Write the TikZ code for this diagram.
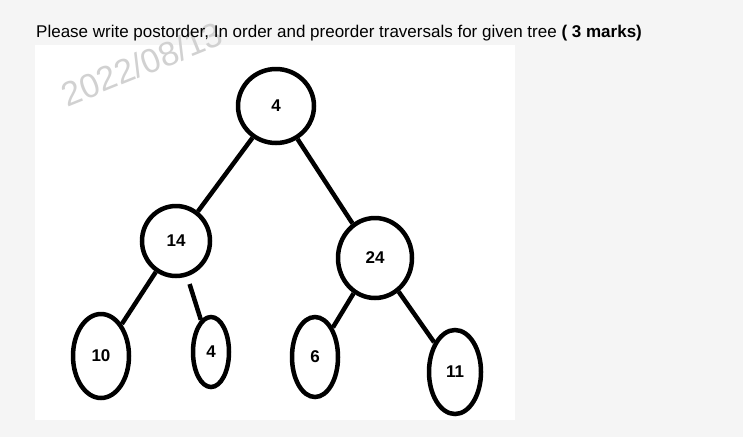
\documentclass[tikz,border=0pt]{standalone}
\usepackage{fontspec}
\setmainfont{Liberation Sans}
\usetikzlibrary{shapes.geometric}
\begin{document}
\begin{tikzpicture}[x=1pt,y=-1pt,
  tn/.style={draw=black,line width=4.5pt,ellipse,inner sep=0pt,font=\bfseries\fontsize{17}{17}\selectfont},
  ed/.style={line width=4.5pt,black}]
\useasboundingbox (0,0) rectangle (743,437);
\fill[black!4] (0,0) rectangle (743,437);
\fill[white] (35,45) rectangle (515,420);
\node[rotate=22,text=black!18,font=\fontsize{34}{34}\selectfont] (wm) at (142,64) {2022/08/13};
\node[anchor=base west,inner sep=0pt,font=\fontsize{17}{19}\selectfont] (title) at (36,37) {Please write postorder, In order and preorder traversals for given tree \textbf{( 3 marks)}};
\node[tn,minimum width=76pt,minimum height=74pt] (r) at (276,106) {4};
\node[tn,minimum width=68pt,minimum height=70pt] (a) at (176,241) {14};
\node[tn,minimum width=74pt,minimum height=80pt] (b) at (375,258) {24};
\node[tn,minimum width=56pt,minimum height=84pt] (c) at (101,356) {10};
\node[tn,minimum width=36pt,minimum height=70pt] (d) at (211,352) {4};
\node[tn,minimum width=46pt,minimum height=80pt] (e) at (315,357) {6};
\node[tn,minimum width=52pt,minimum height=84pt] (f) at (455,372) {11};
\draw[ed] (r) -- (a);
\draw[ed] (r) -- (b);
\draw[ed] (a) -- (c);
\draw[ed,shorten <=8pt] (a) -- (d);
\draw[ed] (b) -- (e);
\draw[ed] (b) -- (f);
\end{tikzpicture}
\end{document}
